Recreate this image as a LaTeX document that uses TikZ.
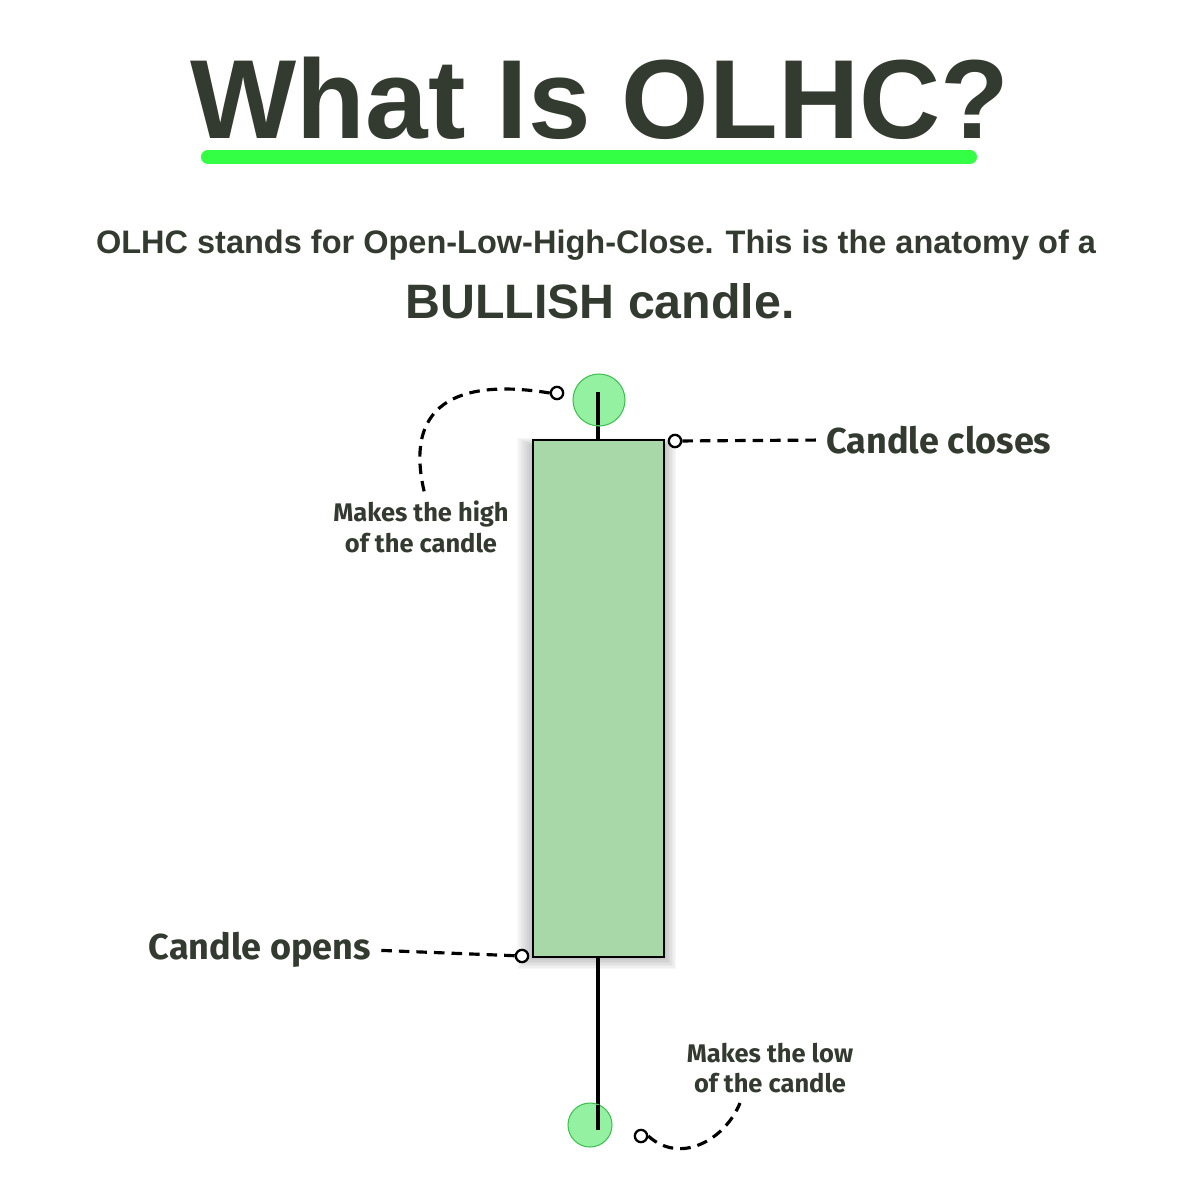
\documentclass[tikz,border=0pt]{standalone}
\usepackage{fontspec}
\setmainfont{Liberation Sans}
\newfontfamily\labfont{Fira Sans}
\definecolor{ink}{HTML}{333A30}
\definecolor{uline}{HTML}{33FF44}
\definecolor{body}{HTML}{A8D8A8}
\definecolor{ball}{HTML}{80EE90}
\definecolor{ballb}{HTML}{40C050}
\tikzset{
 dash line/.style={line width=1.8pt, dash pattern=on 6pt off 4pt},
 ring/.style={circle, draw=black, line width=1.3pt, fill=white, minimum size=7pt, inner sep=0pt},
 lab/.style={text=ink, font=\labfont\bfseries\fontsize{20.5}{24}\selectfont, inner sep=0pt},
 slab/.style={text=ink, font=\labfont\bfseries\fontsize{14.5}{17.5}\selectfont, align=center, inner sep=0pt},
}
\begin{document}
\begin{tikzpicture}[x=0.02cm,y=-0.02cm]
\useasboundingbox (0,0) rectangle (1200,1200);
\node[text=ink, font=\bfseries\fontsize{64}{70}\selectfont] (title) at (600,98) {What Is OLHC?};
\draw[uline, line width=8pt, line cap=round] (208,157) -- (970,157);
\node[text=ink, font=\bfseries\fontsize{18.5}{22}\selectfont] (sub1) at (596,245) {OLHC stands for Open-Low-High-Close. This is the anatomy of a};
\node[text=ink, font=\bfseries\fontsize{27.5}{30}\selectfont] (sub2) at (600,301) {BULLISH candle.};
% shadow
\foreach \i in {1,...,8}{
 \fill[black, opacity=0.03] (533-2*\i,440-1*\i+6) rectangle (664+1.5*\i,957+1.5*\i);
}
% wicks
\draw[line width=2.2pt] (598,395) -- (598,440);
\draw[line width=2.2pt] (598,957) -- (598,1130);
\node[draw=black, line width=0.6pt, fill=body, minimum width=131*0.02cm, minimum height=517*0.02cm, inner sep=0pt] (body) at (598.5,698.5) {};
\node[circle, fill=ball, fill opacity=0.85, draw=ballb, line width=0.6pt, minimum size=52*0.02cm, inner sep=0pt] (hi) at (599,400) {};
\draw[line width=2.2pt] (598,392) -- (598,425);
\node[circle, fill=ball, fill opacity=0.85, draw=ballb, line width=0.6pt, minimum size=44*0.02cm, inner sep=0pt] (lo) at (590,1125) {};
\draw[line width=2.2pt] (598,1105) -- (598,1130);
% rings
\node[ring] (rh) at (557,393) {};
\node[ring] (rc) at (675,441) {};
\node[ring] (ro) at (522,956) {};
\node[ring] (rl) at (641,1136) {};
% labels
\node[lab, anchor=west] (closes) at (826,440) {Candle closes};
\node[lab, anchor=east] (opens) at (371,950) {Candle opens};
\node[slab] (high) at (421,527) {Makes the high\\of the candle};
\node[slab] (low) at (770,1068) {Makes the low\\of the candle};
\coordinate (hend) at (425,495);
\coordinate (lend) at (740,1103);
\draw[dash line, shorten >=5pt] (rc) -- (closes.west);
\draw[dash line, shorten >=5pt] (ro) -- (opens.east);
\draw[dash line] (rh.west) .. controls (470,380) and (400,395) .. (hend);
\draw[dash line] (rl.east) .. controls (680,1165) and (725,1140) .. (lend);
\end{tikzpicture}
\end{document}
